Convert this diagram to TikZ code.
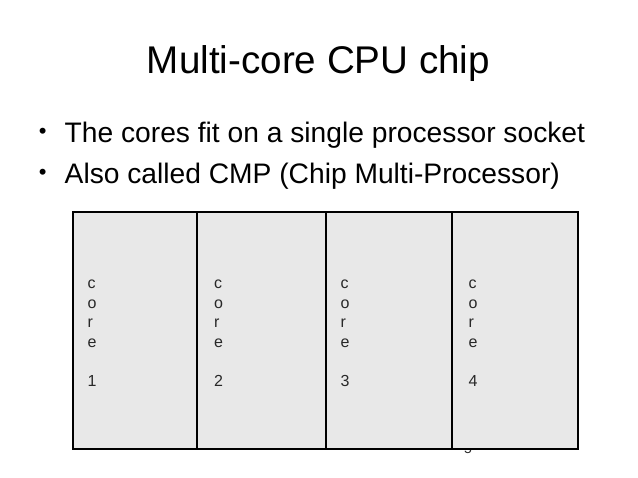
\documentclass[tikz,border=0pt]{standalone}
\usepackage{fontspec}
\setmainfont{Liberation Sans}
\definecolor{corefill}{RGB}{232,232,232}
\definecolor{coretext}{RGB}{40,40,40}
\tikzset{
  corebox/.style={draw=black, line width=1.6pt, fill=corefill},
  titletext/.style={inner sep=0pt, anchor=base, font=\fontsize{38.6}{46}\selectfont},
  bullettext/.style={inner sep=0pt, anchor=base west, font=\fontsize{28.2}{34}\selectfont},
  bulletdot/.style={inner sep=0pt, anchor=base, font=\fontsize{22}{26}\selectfont},
  corelabel/.style={inner sep=0pt, anchor=base west, text=coretext, font=\fontsize{16}{19}\selectfont},
  slidenum/.style={inner sep=0pt, anchor=base, text=coretext, font=\fontsize{14}{17}\selectfont}
}
\begin{document}
\begin{tikzpicture}[x=1pt, y=-1pt]
\useasboundingbox (0,0) rectangle (638,478);
\node[titletext] (title) at (318.5,74) {Multi-core CPU chip};
\node[bulletdot] (b1) at (42.7,138.2) {•};
\node[bullettext] (t1) at (64.5,142.5) {The cores fit on a single processor socket};
\node[bulletdot] (b2) at (42.7,179.7) {•};
\node[bullettext] (t2) at (64.5,184) {Also called CMP (Chip Multi-Processor)};
\node[slidenum] (num) at (468,453.5) {5};
\draw[corebox] (73,212) rectangle (197,449);
\draw[corebox] (197,212) rectangle (326,449);
\draw[corebox] (326,212) rectangle (452,449);
\draw[corebox] (452,212) rectangle (578,449);
\foreach \xx/\n in {87.5/1, 214/2, 340.5/3, 468.5/4} {
  \node[corelabel] (c\n) at (\xx,289) {c};
  \node[corelabel] (o\n) at (\xx,308.4) {o};
  \node[corelabel] (r\n) at (\xx,327.8) {r};
  \node[corelabel] (e\n) at (\xx,347.2) {e};
  \node[corelabel] (d\n) at (\xx,386.2) {\n};
}
\end{tikzpicture}
\end{document}
